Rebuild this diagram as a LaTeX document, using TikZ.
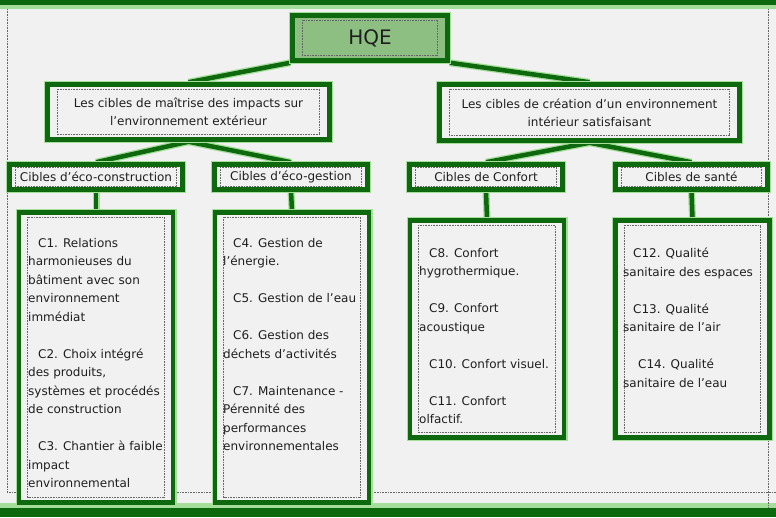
\documentclass[tikz,border=0pt]{standalone}
\usepackage{fontspec}
\setmainfont{DejaVu Sans}
\usetikzlibrary{backgrounds}
\definecolor{hqeline}{RGB}{14,104,14}
\definecolor{hqeglow}{RGB}{165,222,155}
\definecolor{hqefill}{RGB}{141,191,131}
\definecolor{hqebg}{RGB}{241,241,241}
\newcommand{\ind}{\hspace*{10pt}}

\begin{document}
\begin{tikzpicture}
  [x=1pt,y=-1pt,
   glow/.style={preaction={draw=hqeglow,line width=7pt}},
   tgt/.style={rectangle,draw=hqeline,line width=4.5pt,fill=hqebg,glow,inner sep=0pt,
     text=black!88,font=\fontsize{12}{18}\selectfont},
   cible/.style={tgt,minimum height=25pt},
   colonne/.style={tgt,minimum width=154pt},
   link/.style={draw=hqeline,line width=4.5pt,glow},
   dots/.style={densely dotted,line width=0.6pt,black!60},
   txt/.style={inner sep=0pt,anchor=north west,align=left,text=black!88,
     font=\fontsize{12}{18.5}\selectfont}]
  \useasboundingbox (0,0) rectangle (776,517);

  \node[tgt,fill=hqefill,minimum width=155pt,minimum height=45pt,
    font=\fontsize{20}{24}\selectfont] (hqe) at (370,38) {HQE};
  \node[tgt,minimum width=282pt,minimum height=55pt,align=center] (ext) at (188.5,112)
    {Les cibles de maîtrise des impacts sur\\l'environnement extérieur};
  \node[tgt,minimum width=300pt,minimum height=56pt,align=center] (int) at (589.5,112.5)
    {Les cibles de création d'un environnement\\intérieur satisfaisant};

  \node[cible,minimum width=173pt] (constr) at (96,177) {Cibles d'éco-construction};
  \node[cible,minimum width=153pt] (gest) at (291,177) {Cibles d'éco-gestion};
  \node[cible,minimum width=153pt] (conf) at (486,177) {Cibles de Confort};
  \node[cible,minimum width=152pt] (sante) at (691.5,177) {Cibles de santé};

  \node[colonne,minimum height=290pt] (lconstr) at (96,357.5) {};
  \node[colonne,minimum height=290pt] (lgest) at (292,357.5) {};
  \node[colonne,minimum height=217pt] (lconf) at (487,329) {};
  \node[colonne,minimum height=217pt] (lsante) at (692.5,329) {};

  \foreach \n/\dx/\dy in {hqe/12/7,ext/12/7,int/12/7,constr/8/5,gest/8/5,conf/8/5,sante/8/5,
      lconstr/11/7,lgest/11/7,lconf/11/7,lsante/11/7}
    \draw[dots] ([xshift=\dx pt,yshift=-\dy pt]\n.north west) rectangle ([xshift=-\dx pt,yshift=\dy pt]\n.south east);

  \node[txt] (tconstr) at (28,238) {\ind C1. Relations\\harmonieuses du\\bâtiment avec son\\environnement\\immédiat\\[18.5pt]
    \ind C2. Choix intégré\\des produits,\\systèmes et procédés\\de construction\\[18.5pt]
    \ind C3. Chantier à faible\\impact\\environnemental};
  \node[txt] (tgest) at (223,238) {\ind C4. Gestion de\\l'énergie.\\[18.5pt]
    \ind C5. Gestion de l'eau\\[18.5pt]
    \ind C6. Gestion des\\déchets d'activités\\[18.5pt]
    \ind C7. Maintenance -\\Pérennité des\\performances\\environnementales};
  \node[txt] (tconf) at (419,248) {\ind C8. Confort\\hygrothermique.\\[18.5pt]
    \ind C9. Confort\\acoustique\\[18.5pt]
    \ind C10. Confort visuel.\\[18.5pt]
    \ind C11. Confort\\olfactif.};
  \node[txt] (tsante) at (623,248) {\ind C12. Qualité\\sanitaire des espaces\\[18.5pt]
    \ind C13. Qualité\\sanitaire de l'air\\[18.5pt]
    \hspace*{15pt}C14. Qualité\\sanitaire de l'eau};

  \begin{scope}[on background layer]
    \fill[hqebg] (0,0) rectangle (776,517);
    \fill[hqeglow] (0,0) rectangle (776,9);
    \fill[hqeline] (0,0) rectangle (776,5);
    \fill[hqeglow] (0,503) rectangle (776,517);
    \fill[hqeline] (0,508) rectangle (776,517);
    \draw[dots] (7,9) -- (7,492) -- (776,492);
    \draw[dots] (768,9) -- (768,508);
    \foreach \from/\to in {hqe.south west/ext.north,hqe.south east/int.north,
        ext.south/constr.north,ext.south/gest.north,int.south/conf.north,int.south/sante.north,
        constr.south/lconstr.north,gest.south/lgest.north,conf.south/lconf.north,sante.south/lsante.north}
      \draw[link] (\from) -- (\to);
  \end{scope}
\end{tikzpicture}
\end{document}
